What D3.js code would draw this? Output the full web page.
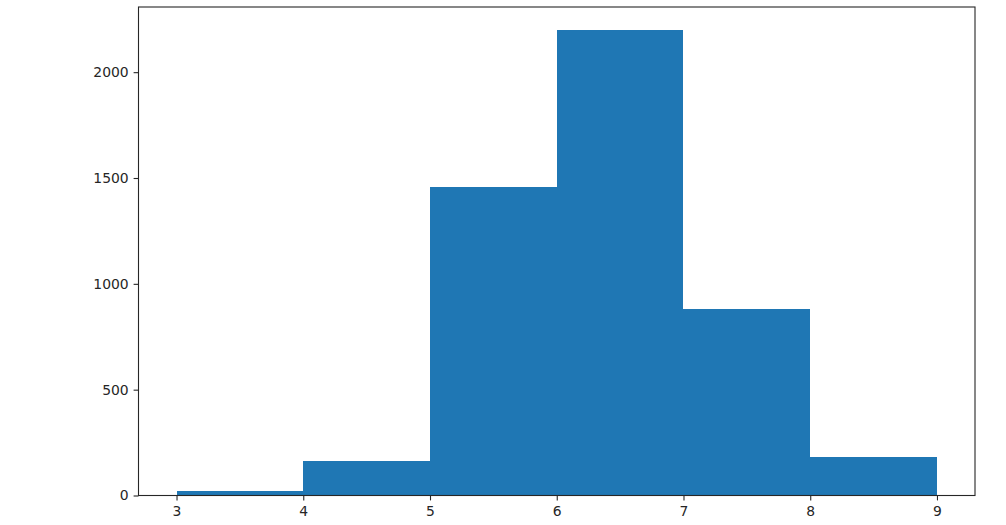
<!DOCTYPE html>
<html>
<head>
<meta charset="utf-8">
<script src="https://cdn.jsdelivr.net/npm/d3@7"></script>
<style>
  body { margin: 0; background: #fff; }
  svg text { font-family: "DejaVu Sans", sans-serif; font-size: 13.9px; fill: #262626; }
</style>
</head>
<body>
<div id="chart"></div>
<script>
// Histogram bins (quality) and counts
var binEdges = [3, 4, 5, 6, 7, 8, 9]
var counts = [20, 163, 1457, 2198, 880, 180]
var xTicks = [3, 4, 5, 6, 7, 8, 9]
var yTicks = [0, 500, 1000, 1500, 2000]

var width = 1006
var height = 525
var margin = { top: 7, right: 31, bottom: 29.5, left: 138.5 }
var chartWidth = width - margin.left - margin.right
var chartHeight = height - margin.top - margin.bottom

var bins = counts.map(function (c, i) {
  return { x0: binEdges[i], x1: binEdges[i + 1], n: c }
})

var span = binEdges[binEdges.length - 1] - binEdges[0]
var x = d3.scaleLinear()
  .domain([binEdges[0] - span * 0.05, binEdges[binEdges.length - 1] + span * 0.05])
  .range([0, chartWidth])
var yMax = d3.max(counts) * 1.05
var y = d3.scaleLinear()
  .domain([0, yMax])
  .range([chartHeight, 0])

var svg = d3.select('#chart').append('svg')
  .attr('width', width)
  .attr('height', height)

var g = svg.append('g')
  .attr('transform', 'translate(' + margin.left + ',' + margin.top + ')')

// Bars
g.selectAll('.bar')
  .data(bins)
  .enter().append('rect')
  .attr('class', 'bar')
  .attr('x', function (d) { return x(d.x0) })
  .attr('width', function (d) { return x(d.x1) - x(d.x0) })
  .attr('y', function (d) { return y(d.n) })
  .attr('height', function (d) { return chartHeight - y(d.n) })
  .attr('fill', '#1f77b4')
  .attr('shape-rendering', 'crispEdges')

// Axes
var xAxis = d3.axisBottom(x).tickValues(xTicks).tickSize(4.9).tickPadding(4.9).tickFormat(d3.format('d'))
var yAxis = d3.axisLeft(y).tickValues(yTicks).tickSize(4.9).tickPadding(4.9).tickFormat(d3.format('d'))

var gx = g.append('g')
  .attr('transform', 'translate(0,' + chartHeight + ')')
  .call(xAxis)
var gy = g.append('g').call(yAxis)

;[gx, gy].forEach(function (a) {
  a.select('.domain').remove()
  a.selectAll('line').attr('stroke', '#262626').attr('stroke-width', 1.1)
  a.selectAll('text').attr('font-family', null).attr('font-size', null)
})
gx.selectAll('text').attr('dy', '0.75em')

// Frame
g.append('rect')
  .attr('width', chartWidth)
  .attr('height', chartHeight)
  .attr('fill', 'none')
  .attr('stroke', '#262626')
  .attr('stroke-width', 1.1)
</script>
</body>
</html>
